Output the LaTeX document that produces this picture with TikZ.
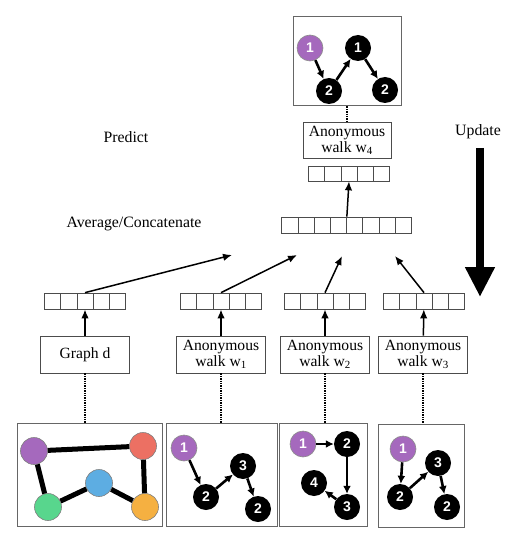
\documentclass[tikz,border=0pt]{standalone}
\usepackage{fontspec}
\setmainfont{Liberation Serif}
\newfontfamily\numfont{Liberation Sans}
\newfontfamily\labelfont{Liberation Serif}
\usetikzlibrary{arrows,arrows.meta,positioning}
\definecolor{walkpurple}{HTML}{A569BD}
\definecolor{gred}{HTML}{EC7063}
\definecolor{gblue}{HTML}{5DADE2}
\definecolor{ggreen}{HTML}{58D68D}
\definecolor{gorange}{HTML}{F5B041}

\tikzset{
  lbl/.style={font=\labelfont\fontsize{15.8}{16}\selectfont},
  box/.style={draw=black!70, line width=0.9pt, minimum width=89pt, minimum height=37pt,
    align=center, inner sep=1pt, font=\labelfont\fontsize{15.6}{16}\selectfont},
  frame/.style={draw=black!60, line width=1pt, inner sep=0pt},
  cell/.style={draw=black!70, line width=0.7pt, minimum width=16.2pt, minimum height=16pt, inner sep=0pt},
  vnode/.style={circle, fill=black, minimum size=26pt, inner sep=0pt, text=white,
    font=\numfont\bfseries\fontsize{14}{14}\selectfont},
  snode/.style={vnode, fill=walkpurple, draw=black!45, line width=0.6pt},
  gnode/.style={circle, draw=black!50, line width=0.6pt, minimum size=27pt},
  walk/.style={-{Latex[length=8pt,width=8pt]}, line width=2.6pt},
  up/.style={-{Latex[length=9pt,width=7.5pt]}, line width=1.5pt},
  link/.style={line width=1.4pt, densely dotted},
}

\begin{document}
\begin{tikzpicture}[x=1pt,y=-1pt]
  \useasboundingbox (0,0) rectangle (511,540);

  % labels
  \node[lbl] (predict) at (126,137) {Predict};
  \node[lbl] (avglbl) at (134,224) {Average/Concatenate};
  \node[lbl] (updlbl) at (478,132) {Update};

  % top walk
  \node[frame, minimum width=108pt, minimum height=89pt] (tf) at (347,61.5) {};
  \node[snode] (t1) at (310,48) {1};
  \node[vnode] (t2) at (329,91) {2};
  \node[vnode] (t3) at (358,48) {1};
  \node[vnode] (t4) at (385,90) {2};
  \draw[walk] (t1) -- (t2);
  \draw[walk] (t2) -- (t3);
  \draw[walk] (t3) -- (t4);

  \node[box, minimum width=88pt, minimum height=36pt] (w4) at (347,140) {Anonymous\\walk w\textsubscript{4}};
  \draw[link] (tf.south) -- (w4.north);

  % vectors
  \foreach \i in {1,...,5}
    \node[cell, minimum height=15pt] (pv-\i) at ({349+16.2*(\i-3)},173.5) {};
  \foreach \i in {1,...,8}
    \node[cell] (avg-\i) at ({346.5+16.2*(\i-4.5)},225) {};
  \foreach \v/\cx in {va/85, vb/221, vc/325, vd/424}
    \foreach \i in {1,...,5}
      \node[cell] (\v-\i) at ({\cx+16.2*(\i-3)},301) {};

  \draw[up] (avg-4.north east) -- (pv-3.south);

  % boxes
  \node[box] (gd) at (85,354.5) {Graph d};
  \node[box] (w1) at (221,354.5) {Anonymous\\walk w\textsubscript{1}};
  \node[box] (w2) at (325,354.5) {Anonymous\\walk w\textsubscript{2}};
  \node[box] (w3) at (423,354.5) {Anonymous\\walk w\textsubscript{3}};

  \draw[up, line width=2pt] (gd) -- (va-3);
  \draw[up, line width=2pt] (w1) -- (vb-3);
  \draw[up] (w2) -- (vc-3);
  \draw[up] (w3) -- (vd-3);

  \coordinate (ea) at (232,255);
  \coordinate (eb) at (297,255);
  \coordinate (ec) at (342,256);
  \coordinate (ed) at (395,256);
  \draw[up] (va-3.north) -- (ea);
  \draw[up] (vb-3.north) -- (eb);
  \draw[up] (vc-3.north) -- (ec);
  \draw[up] (vd-3.north) -- (ed);

  % update arrow
  \coordinate (updtop) at (480,148);
  \coordinate (updtip) at (480,297);
  \draw[line width=8pt, -{Triangle[width=28pt,length=30pt]}] (updtop) -- (updtip);

  % bottom frames
  \node[frame, minimum width=145pt, minimum height=103pt] (g1) at (89.5,474.5) {};
  \node[frame, minimum width=111pt, minimum height=103pt] (g2) at (221.5,474.5) {};
  \node[frame, minimum width=88pt, minimum height=103pt] (g3) at (323,474.5) {};
  \node[frame, minimum width=86pt, minimum height=103pt] (g4) at (421,475.5) {};

  \draw[link] (gd.south) -- (gd.south |- g1.north);
  \draw[link] (w1.south) -- (w1.south |- g2.north);
  \draw[link] (w2.south) -- (w2.south |- g3.north);
  \draw[link, line width=2.4pt] (w3.south) -- (w3.south |- g4.north);

  % graph d
  \node[gnode, fill=walkpurple] (gp) at (34,451) {};
  \node[gnode, fill=gred] (gr) at (143,446) {};
  \node[gnode, fill=gblue] (gb) at (99,483) {};
  \node[gnode, fill=ggreen] (gg) at (48,507) {};
  \node[gnode, fill=gorange] (go) at (145,507) {};
  \draw[line width=5pt] (gp) -- (gr);
  \draw[line width=5pt] (gp) -- (gg);
  \draw[line width=5pt] (gg) -- (gb);
  \draw[line width=5pt] (gb) -- (go);
  \draw[line width=5pt] (gr) -- (go);

  % walk w1
  \node[snode] (a1) at (184,448) {1};
  \node[vnode] (a2) at (206,497) {2};
  \node[vnode] (a3) at (243,466) {3};
  \node[vnode] (a4) at (258,509) {2};
  \draw[walk] (a1) -- (a2);
  \draw[walk] (a2) -- (a3);
  \draw[walk] (a3) -- (a4);

  % walk w2
  \node[snode] (b1) at (303,444) {1};
  \node[vnode] (b2) at (347,444) {2};
  \node[vnode] (b3) at (347,507) {3};
  \node[vnode] (b4) at (314,483) {4};
  \draw[walk] (b1) -- (b2);
  \draw[walk] (b2) -- (b3);
  \draw[walk] (b3) -- (b4);

  % walk w3
  \node[snode] (c1) at (403,449) {1};
  \node[vnode] (c2) at (400,497) {2};
  \node[vnode] (c3) at (438,463) {3};
  \node[vnode] (c4) at (447,507) {2};
  \draw[walk] (c1) -- (c2);
  \draw[walk] (c2) -- (c3);
  \draw[walk] (c3) -- (c4);
\end{tikzpicture}
\end{document}
